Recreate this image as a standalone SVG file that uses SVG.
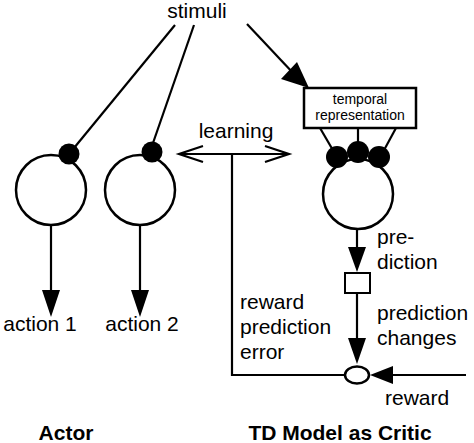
<svg xmlns="http://www.w3.org/2000/svg" width="474" height="443" viewBox="0 0 474 443">
<style>
.ln{stroke:#000;stroke-width:2.2;fill:none}
.nd{stroke:#000;stroke-width:2.5;fill:#fff}
.ball{fill:#000}
.ah{fill:#000;stroke:none}
text{font-family:"Liberation Sans",Arial,sans-serif;font-size:21px;fill:#000}
.sm{font-size:14px}
.b{font-weight:bold;font-size:21px}
</style>
<rect width="474" height="443" fill="#fff"/>
<g id="connectors">
<line class="ln" x1="175" y1="25" x2="74" y2="148"/>
<line class="ln" x1="194" y1="25" x2="153" y2="143"/>
<line class="ln" x1="247" y1="24" x2="294" y2="74"/>
<polygon class="ah" points="309,88 281,79 297,62"/>
<line class="ln" x1="320" y1="128" x2="334" y2="152"/>
<line class="ln" x1="358" y1="128" x2="358" y2="148"/>
<line class="ln" x1="396" y1="128" x2="383" y2="152"/>
<line class="ln" x1="51" y1="225" x2="51" y2="295"/>
<polygon class="ah" points="51,317 42,290 60,290"/>
<line class="ln" x1="140" y1="225" x2="140" y2="295"/>
<polygon class="ah" points="140,317 131,290 149,290"/>
<line class="ln" x1="180" y1="154" x2="289" y2="154"/>
<polyline class="ln" points="203,146 179,154 203,162"/>
<polyline class="ln" points="265,146 289,154 265,162"/>
<polyline class="ln" points="232,154 232,375 345,375"/>
<line class="ln" x1="357" y1="228" x2="357" y2="252"/>
<polygon class="ah" points="357,272 348,247 366,247"/>
<line class="ln" x1="357" y1="293" x2="357" y2="342"/>
<polygon class="ah" points="357,364 348,338 366,338"/>
<line class="ln" x1="388" y1="375" x2="466" y2="375"/>
<polygon class="ah" points="370,375 393,366 393,384"/>
</g>
<g id="stimuli"><text x="197" y="18" text-anchor="middle">stimuli</text></g>
<g id="actor1">
<circle class="nd" cx="51" cy="190" r="35"/>
<circle class="ball" cx="69" cy="154" r="10.5"/>
</g>
<g id="actor2">
<circle class="nd" cx="140" cy="190" r="35"/>
<circle class="ball" cx="152" cy="152" r="10.5"/>
</g>
<g id="action1"><text x="40" y="331" text-anchor="middle">action 1</text></g>
<g id="action2"><text x="142" y="331" text-anchor="middle">action 2</text></g>
<g id="temporal">
<rect x="304" y="88" width="112" height="40" fill="#fff" stroke="#000" stroke-width="2.5"/>
<text class="sm" x="360" y="104" text-anchor="middle">temporal</text>
<text class="sm" x="360" y="120" text-anchor="middle">representation</text>
</g>
<g id="critic">
<circle class="nd" cx="358" cy="194" r="35"/>
<circle class="ball" cx="337" cy="157" r="11"/>
<circle class="ball" cx="358" cy="152" r="11"/>
<circle class="ball" cx="379" cy="157" r="11"/>
</g>
<g id="learning"><text x="236" y="138" text-anchor="middle">learning</text></g>
<g id="predbox"><rect x="345" y="273" width="25" height="20" fill="#fff" stroke="#000" stroke-width="2"/></g>
<g id="comparator"><ellipse cx="357" cy="375" rx="12" ry="8.5" fill="#fff" stroke="#000" stroke-width="2.5"/></g>
<g id="labels">
<text x="377" y="244">pre-</text>
<text x="377" y="269">diction</text>
<text x="377" y="320">prediction</text>
<text x="377" y="345">changes</text>
<text x="240" y="309">reward</text>
<text x="240" y="334">prediction</text>
<text x="240" y="359">error</text>
<text x="385" y="405">reward</text>
<text class="b" x="66" y="440" text-anchor="middle">Actor</text>
<text class="b" x="340" y="440" text-anchor="middle">TD Model as Critic</text>
</g>
</svg>
